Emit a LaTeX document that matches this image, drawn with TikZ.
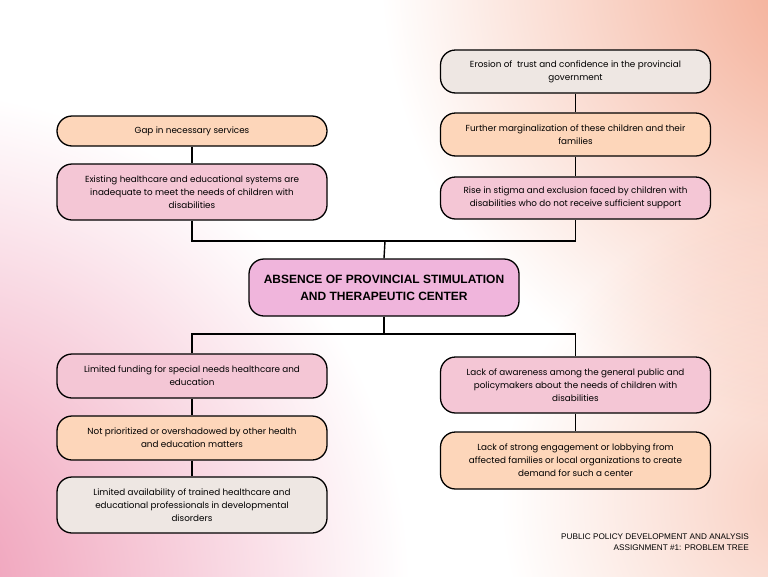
\documentclass[tikz,border=0pt]{standalone}
\usepackage{fontspec}
\setmainfont{Poppins}
\newfontfamily\titlefont{Liberation Sans}
\definecolor{boxpeach}{HTML}{FDD6BA}
\definecolor{boxpink}{HTML}{F4C6D5}
\definecolor{boxgrey}{HTML}{EEE7E3}
\definecolor{corepink}{HTML}{F0B5DC}
\definecolor{bgpink}{HTML}{EE96B2}
\definecolor{bgorange}{HTML}{F3A68C}
\tikzset{
  treebox/.style={draw=black, line width=1.3pt, rounded corners=15pt, minimum width=270pt, inner sep=0pt, align=center, font=\fontsize{8.8}{13}\selectfont},
  peachbox/.style={treebox, fill=boxpeach},
  pinkbox/.style={treebox, fill=boxpink},
  greybox/.style={treebox, fill=boxgrey},
  corebox/.style={treebox, fill=corepink, font=\titlefont\bfseries\fontsize{12}{17}\selectfont},
  link/.style={line width=1.4pt, draw=black}
}
\begin{document}
\begin{tikzpicture}[x=1pt,y=-1pt]
    \useasboundingbox (0,0) rectangle (768,576);

    % Background glow
    \fill[white] (0,0) rectangle (768,576);
    \begin{scope}[blend mode=multiply]
        \clip (0,0) rectangle (768,576);
        \shade[inner color=bgpink, outer color=white] (-90,590) circle (500);
        \shade[inner color=bgorange, outer color=white] (840,-30) circle (460);
        \shade[inner color=bgorange!55, outer color=white] (800,500) circle (300);
    \end{scope}

    % Effects on top
    \node[peachbox, minimum height=30pt] (gap) at (192,131) {Gap in necessary services};
    \node[pinkbox, minimum height=56pt] (exist) at (192,192) {Existing healthcare and educational systems are\\inadequate to meet the needs of children with\\disabilities};
    \node[greybox, minimum height=43pt] (erosion) at (575.5,71.5) {Erosion of\ \ trust and confidence in the provincial\\government};
    \node[peachbox, minimum height=43pt] (margin) at (575.5,134.5) {Further marginalization of these children and their\\families};
    \node[pinkbox, minimum height=42pt] (stigma) at (575.5,198) {Rise in stigma and exclusion faced by children with\\disabilities who do not receive sufficient support};

    % The core problem
    \node[corebox, minimum height=57pt] (core) at (384,287.5) {ABSENCE OF PROVINCIAL STIMULATION\\AND THERAPEUTIC CENTER};

    % Causes below
    \node[pinkbox, minimum height=44pt] (fund) at (192,376) {Limited funding for special needs healthcare and\\education};
    \node[peachbox, minimum height=44pt] (prior) at (192,438) {Not prioritized or overshadowed by other health\\and education matters};
    \node[greybox, minimum height=56pt] (avail) at (192,505) {Limited availability of trained healthcare and\\educational professionals in developmental\\disorders};
    \node[pinkbox, minimum height=56pt] (aware) at (575.5,385) {Lack of awareness among the general public and\\policymakers about the needs of children with\\disabilities};
    \node[peachbox, minimum height=57pt] (lobby) at (575.5,460.5) {Lack of strong engagement or lobbying from\\affected families or local organizations to create\\demand for such a center};

    % Connect the branches
    \coordinate (topbar) at (385,241);
    \coordinate (botbar) at (384,334);
    \draw[link] (gap.south) -- (exist.north);
    \draw[link] (erosion.south) -- (margin.north);
    \draw[link] (margin.south) -- (stigma.north);
    \draw[link] (exist.south) |- (topbar) -| (stigma.south);
    \draw[link] (topbar) -- (core.north);
    \draw[link] (core.south) -- (botbar);
    \draw[link] (fund.north) |- (botbar) -| (aware.north);
    \draw[link] (fund.south) -- (prior.north);
    \draw[link] (prior.south) -- (avail.north);
    \draw[link] (aware.south) -- (lobby.north);

    % Footer
    \node[anchor=north east, align=right, inner sep=0pt, font=\titlefont\fontsize{8.2}{11}\selectfont] (footer) at (749,534) {PUBLIC POLICY DEVELOPMENT AND ANALYSIS\\ASSIGNMENT \#1: PROBLEM TREE};
\end{tikzpicture}
\end{document}
